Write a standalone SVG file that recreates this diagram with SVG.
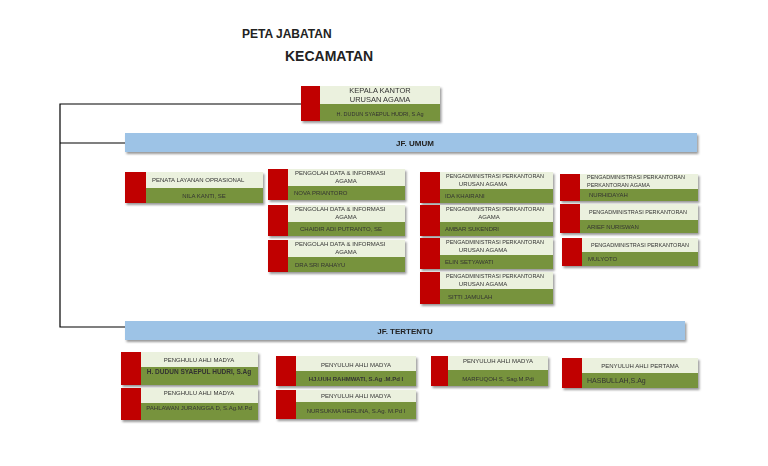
<svg xmlns="http://www.w3.org/2000/svg" width="768" height="466" viewBox="0 0 768 466">
<defs>
<filter id="sh" x="-10%" y="-20%" width="130%" height="150%"><feDropShadow dx="1.5" dy="2" stdDeviation="1.2" flood-color="#000" flood-opacity="0.4"/></filter>
</defs>
<style>
.r{fill:#c00000}
.l{fill:#ebf1de}
.g{fill:#77933c}
.bar{fill:#9dc3e6}
text{font-family:"Liberation Sans",Arial,sans-serif;fill:#333}
.t{font-size:6px}
.h{font-size:12px;font-weight:bold;fill:#222}
.b{font-size:8px;font-weight:bold;fill:#222}
.c{stroke:#000;stroke-width:1.2;fill:none}
</style>
<rect width="768" height="466" fill="#fff"/>
<text class="h" x="242" y="38">PETA JABATAN</text>
<text class="h" x="285" y="61" style="font-size:14px">KECAMATAN</text>
<g id="connectors">
<path class="c" d="M301 104H60V327H125M60 143H125"/>
</g>
<g id="kepala" filter="url(#sh)">
<rect class="r" x="301" y="86" width="19" height="35"/>
<rect class="l" x="320" y="86" width="120" height="18"/>
<rect class="g" x="320" y="104" width="120" height="17"/>
<text class="t" x="380" y="93" text-anchor="middle" style="font-size:7.5px">KEPALA KANTOR</text>
<text class="t" x="380" y="102" text-anchor="middle" style="font-size:7.5px">URUSAN AGAMA</text>
<text class="t" x="380" y="116" text-anchor="middle" style="font-size:5.5px">H. DUDUN SYAEPUL HUDRI, S.Ag</text>
</g>
<g id="jf-umum" filter="url(#sh)"><rect class="bar" x="125" y="133" width="572" height="19"/><text class="b" x="415" y="146" text-anchor="middle">JF. UMUM</text></g>
<g id="jf-tertentu" filter="url(#sh)"><rect class="bar" x="125" y="321" width="560" height="19"/><text class="b" x="405" y="334" text-anchor="middle">JF. TERTENTU</text></g>

<g id="u1" filter="url(#sh)"><rect class="r" x="125" y="172" width="21" height="31"/><rect class="l" x="146" y="172" width="117" height="16"/><rect class="g" x="146" y="188" width="117" height="15"/>
<text class="t" x="152" y="182">PENATA LAYANAN OPRASIONAL</text><text class="t" x="204" y="198" text-anchor="middle">NILA KANTI, SE</text></g>

<g id="u2" filter="url(#sh)"><rect class="r" x="268" y="169" width="20" height="31"/><rect class="l" x="288" y="169" width="117" height="17"/><rect class="g" x="288" y="186" width="117" height="14"/>
<text class="t" x="295" y="175">PENGOLAH DATA &amp; INFORMASI</text><text class="t" x="346" y="183" text-anchor="middle">AGAMA</text><text class="t" x="294" y="195">NOVA PRIANTORO</text></g>
<g id="u3" filter="url(#sh)"><rect class="r" x="268" y="205" width="20" height="31"/><rect class="l" x="288" y="205" width="117" height="17"/><rect class="g" x="288" y="222" width="117" height="14"/>
<text class="t" x="295" y="211">PENGOLAH DATA &amp; INFORMASI</text><text class="t" x="346" y="219" text-anchor="middle">AGAMA</text><text class="t" x="300" y="231">CHAIDIR ADI PUTRANTO, SE</text></g>
<g id="u4" filter="url(#sh)"><rect class="r" x="268" y="240" width="20" height="32"/><rect class="l" x="288" y="240" width="117" height="17"/><rect class="g" x="288" y="257" width="117" height="15"/>
<text class="t" x="295" y="246">PENGOLAH DATA &amp; INFORMASI</text><text class="t" x="346" y="254" text-anchor="middle">AGAMA</text><text class="t" x="295" y="267">DRA SRI RAHAYU</text></g>

<g id="u5" filter="url(#sh)"><rect class="r" x="420" y="172" width="20" height="31"/><rect class="l" x="440" y="172" width="113" height="17"/><rect class="g" x="440" y="189" width="113" height="14"/>
<text class="t" x="446" y="178" style="font-size:5.5px">PENGADMINISTRASI PERKANTORAN</text><text class="t" x="483" y="186" text-anchor="middle">URUSAN AGAMA</text><text class="t" x="445" y="198">IDA KHAIRANI</text></g>
<g id="u6" filter="url(#sh)"><rect class="r" x="420" y="205" width="20" height="31"/><rect class="l" x="440" y="205" width="113" height="17"/><rect class="g" x="440" y="222" width="113" height="14"/>
<text class="t" x="446" y="211" style="font-size:5.5px">PENGADMINISTRASI PERKANTORAN</text><text class="t" x="489" y="219" text-anchor="middle">AGAMA</text><text class="t" x="445" y="231">AMBAR SUKENDRI</text></g>
<g id="u7" filter="url(#sh)"><rect class="r" x="420" y="238" width="20" height="31"/><rect class="l" x="440" y="238" width="113" height="17"/><rect class="g" x="440" y="255" width="113" height="14"/>
<text class="t" x="446" y="244" style="font-size:5.5px">PENGADMINISTRASI PERKANTORAN</text><text class="t" x="483" y="252" text-anchor="middle">URUSAN AGAMA</text><text class="t" x="445" y="264">ELIN SETYAWATI</text></g>
<g id="u8" filter="url(#sh)"><rect class="r" x="420" y="272" width="20" height="32"/><rect class="l" x="440" y="272" width="113" height="17"/><rect class="g" x="440" y="289" width="113" height="15"/>
<text class="t" x="446" y="278" style="font-size:5.5px">PENGADMINISTRASI PERKANTORAN</text><text class="t" x="483" y="286" text-anchor="middle">URUSAN AGAMA</text><text class="t" x="448" y="299">SITTI JAMULAH</text></g>

<g id="u9" filter="url(#sh)"><rect class="r" x="560" y="174" width="20" height="27"/><rect class="l" x="580" y="174" width="118" height="15"/><rect class="g" x="580" y="189" width="118" height="12"/>
<text class="t" x="587" y="179" style="font-size:5.5px">PENGADMINISTRASI PERKANTORAN</text><text class="t" x="587" y="187" style="font-size:5.5px">PERKANTORAN AGAMA</text><text class="t" x="589" y="197">NURHIDAYAH</text></g>
<g id="u10" filter="url(#sh)"><rect class="r" x="560" y="204" width="20" height="29"/><rect class="l" x="580" y="204" width="118" height="16"/><rect class="g" x="580" y="220" width="118" height="13"/>
<text class="t" x="589" y="214" style="font-size:5.5px">PENGADMINISTRASI PERKANTORAN</text><text class="t" x="587" y="229">ARIEF NURISWAN</text></g>
<g id="u11" filter="url(#sh)"><rect class="r" x="562" y="238" width="20" height="28"/><rect class="l" x="582" y="238" width="116" height="14"/><rect class="g" x="582" y="252" width="116" height="14"/>
<text class="t" x="591" y="247" style="font-size:5.5px">PENGADMINISTRASI PERKANTORAN</text><text class="t" x="588" y="261">MULYOTO</text></g>

<g id="t1" filter="url(#sh)"><rect class="r" x="121" y="352" width="20" height="33"/><rect class="l" x="141" y="352" width="117" height="15"/><rect class="g" x="141" y="367" width="117" height="18"/>
<text class="t" x="199" y="362" text-anchor="middle">PENGHULU AHLI MADYA</text><text class="t" x="199" y="374" text-anchor="middle" style="font-weight:bold;font-size:6.5px">H. DUDUN SYAEPUL HUDRI, S.Ag</text></g>
<g id="t2" filter="url(#sh)"><rect class="r" x="121" y="388" width="20" height="32"/><rect class="l" x="141" y="388" width="117" height="15"/><rect class="g" x="141" y="403" width="117" height="17"/>
<text class="t" x="199" y="395" text-anchor="middle">PENGHULU AHLI MADYA</text><text class="t" x="199" y="410" text-anchor="middle">PAHLAWAN JURANGGA D, S.Ag.M.Pd</text></g>
<g id="t3" filter="url(#sh)"><rect class="r" x="276" y="356" width="20" height="30"/><rect class="l" x="296" y="356" width="120" height="15"/><rect class="g" x="296" y="371" width="120" height="15"/>
<text class="t" x="356" y="367" text-anchor="middle">PENYULUH AHLI MADYA</text><text class="t" x="356" y="381" text-anchor="middle" style="font-weight:bold">HJ.UUH RAHMWATI, S.Ag .M.Pd I</text></g>
<g id="t4" filter="url(#sh)"><rect class="r" x="276" y="390" width="20" height="29"/><rect class="l" x="296" y="390" width="120" height="12"/><rect class="g" x="296" y="402" width="120" height="17"/>
<text class="t" x="356" y="398" text-anchor="middle">PENYULUH AHLI MADYA</text><text class="t" x="356" y="413" text-anchor="middle">NURSUKMA HERLINA, S.Ag. M.Pd I</text></g>
<g id="t5" filter="url(#sh)"><rect class="r" x="431" y="356" width="17" height="30"/><rect class="l" x="448" y="356" width="100" height="14"/><rect class="g" x="448" y="370" width="100" height="16"/>
<text class="t" x="498" y="363" text-anchor="middle">PENYULUH AHLI MADYA</text><text class="t" x="498" y="381" text-anchor="middle">MARFUQOH S, Sag.M.Pdi</text></g>
<g id="t6" filter="url(#sh)"><rect class="r" x="562" y="358" width="20" height="30"/><rect class="l" x="582" y="358" width="116" height="15"/><rect class="g" x="582" y="373" width="116" height="15"/>
<text class="t" x="640" y="368" text-anchor="middle">PENYULUH AHLI PERTAMA</text><text class="t" x="587" y="383" style="font-size:7px">HASBULLAH,S.Ag</text></g>
</svg>
